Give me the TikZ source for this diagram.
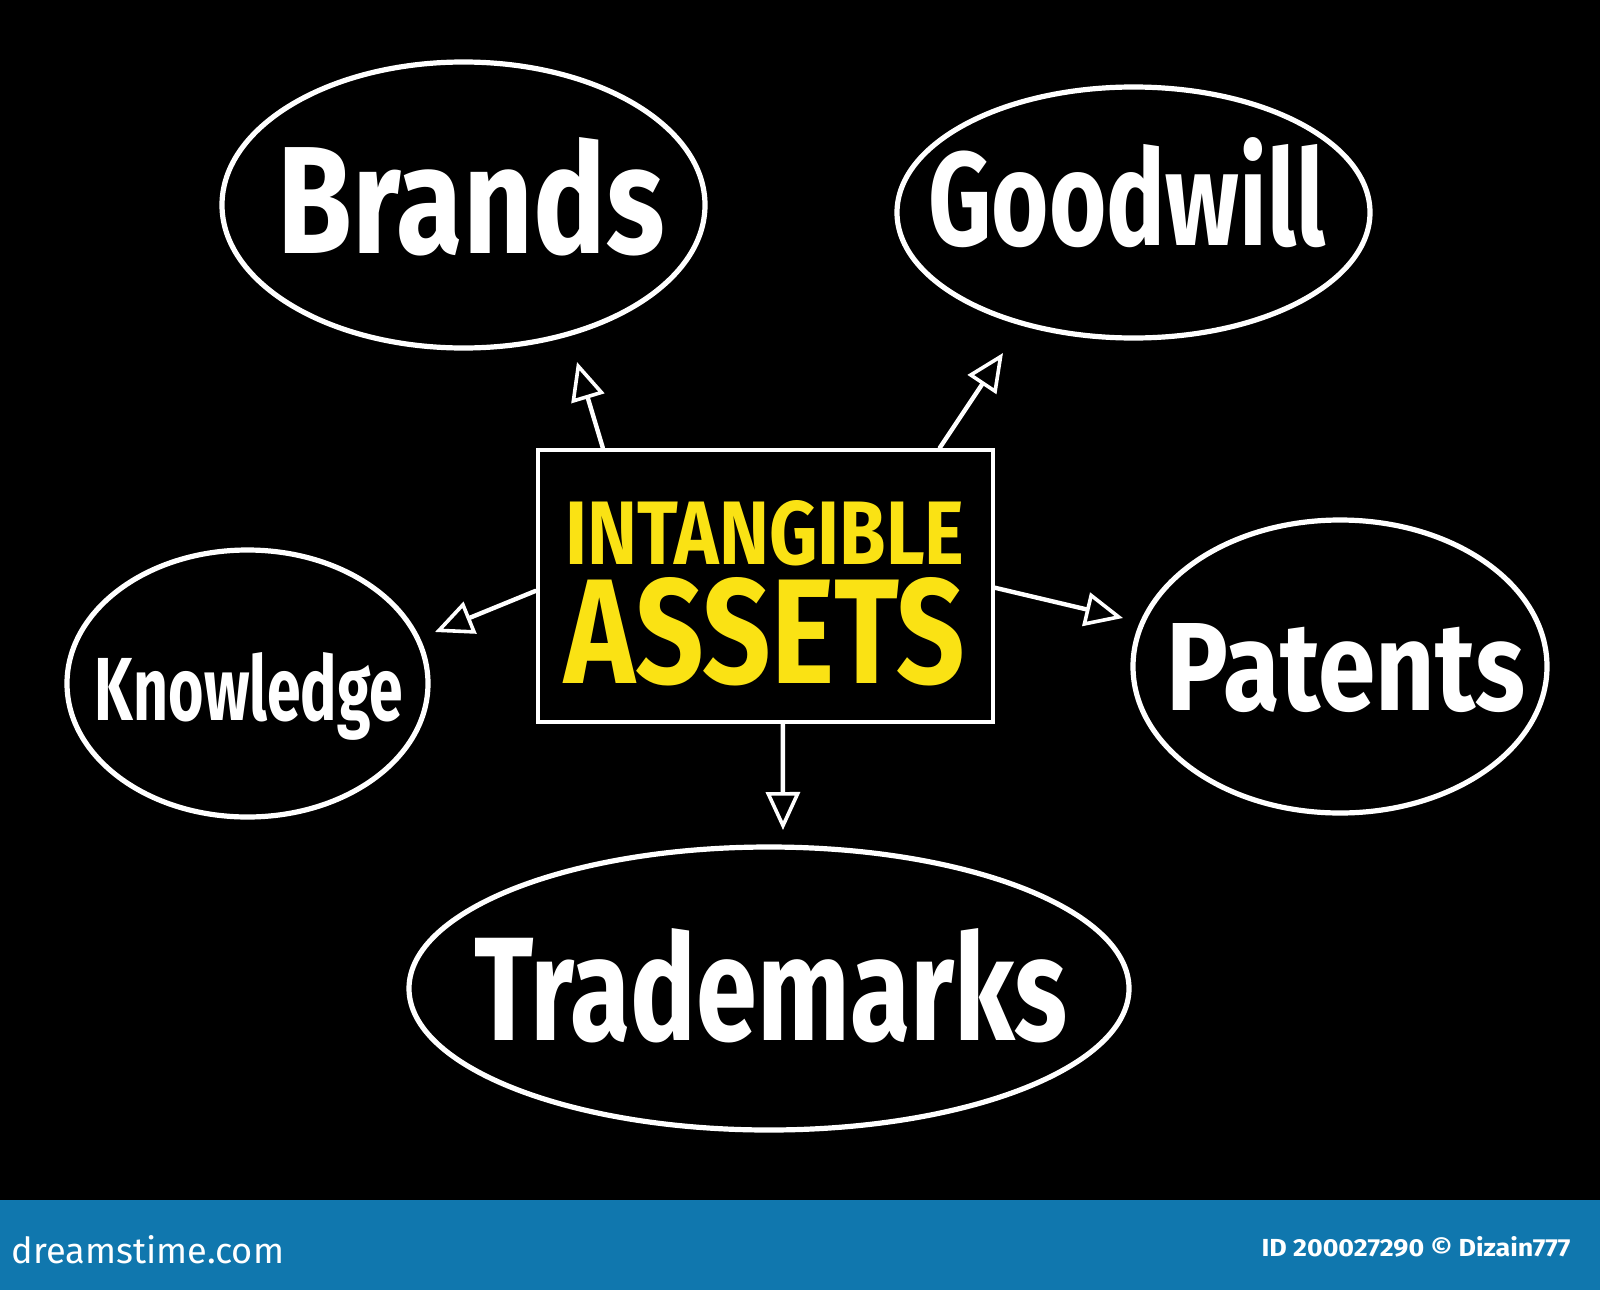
\documentclass[tikz,border=0pt]{standalone}
\usepackage{fontspec}
\setmainfont{Fira Sans}
\usepackage{graphicx}
\usetikzlibrary{shapes.geometric, arrows.meta, calc}

\definecolor{chalkyellow}{RGB}{250,226,20}
\definecolor{stockblue}{RGB}{16,119,174}
\newlength\px
\setlength\px{0.5pt}
\newcommand{\fitword}[3]{\resizebox{#1\px}{#2\px}{\bfseries #3}}
\newcommand{\fitthin}[3]{\resizebox{#1\px}{#2\px}{#3}}

\begin{document}
\begin{tikzpicture}[x=0.5pt, y=-0.5pt,
    bubble/.style={draw=white, line width=2.6pt, ellipse, inner sep=0pt},
    word/.style={white, anchor=base, inner sep=0pt},
    flow/.style={draw=white, line width=2.2pt, line cap=round,
        -{Triangle[open, length=19pt, width=17pt, line width=1.8pt]}}]

    % background and bottom strip
    \fill[black] (0,0) rectangle (1600,1290);
    \useasboundingbox (0,0) rectangle (1600,1290);
    \fill[stockblue] (0,1200) rectangle (1600,1290);

    % the five bubbles
    \node[bubble, minimum width=241.5pt, minimum height=143pt] (brands) at (463.5,205) {};
    \node[bubble, minimum width=236.5pt, minimum height=125.5pt] (goodwill) at (1133.5,212.5) {};
    \node[bubble, minimum width=180.5pt, minimum height=133.5pt] (knowledge) at (247.5,683.5) {};
    \node[bubble, minimum width=207pt, minimum height=146.5pt] (patents) at (1340,666.5) {};
    \node[bubble, minimum width=360pt, minimum height=141.5pt] (trademarks) at (769,988.5) {};

    \node[word] (brandsword) at (471,253) {\fitword{387}{116}{Brands}};
    \node[word] (goodwillword) at (1127,245) {\fitword{397}{108}{Goodwill}};
    \node[word] (knowledgeword) at (249,720) {\fitword{308}{68}{Knowledge}};
    \node[word] (patentsword) at (1346,710) {\fitword{358}{87}{Patents}};
    \node[word] (trademarksword) at (771,1040) {\fitword{593}{112}{Trademarks}};

    % centre box
    \node[draw=white, line width=2.2pt, minimum width=227.5pt, minimum height=136pt, inner sep=0pt] (core) at (765.5,586) {};
    \node[chalkyellow, anchor=north, inner sep=0pt, align=center] (coreword) at (765,500)
        {\fitword{399}{64}{INTANGIBLE}\\[5pt]\fitword{401}{106}{ASSETS}};

    % arrow tips
    \coordinate (tipbrands) at (577,362);
    \coordinate (tipgoodwill) at (1003,353);
    \coordinate (tipknowledge) at (435,632);
    \coordinate (tippatents) at (1123,618);
    \coordinate (tiptrademarks) at (783,830);

    \draw[flow] ($(core.north west)+(67,0)$) -- (tipbrands);
    \draw[flow] ($(core.north west)+(404,0)$) -- (tipgoodwill);
    \draw[flow] ($(core.north west)+(0,143)$) -- (tipknowledge);
    \draw[flow] ($(core.north east)+(0,140)$) -- (tippatents);
    \draw[flow] ($(core.south west)+(247,0)$) -- (tiptrademarks);

    % strip texts
    \node[word] (sitename) at (148,1263) {\fitthin{272}{28}{dreamstime.com}};
    \node[word] (imageid) at (1416,1256) {\fitword{309}{20}{ID 200027290 © Dizain777}};

\end{tikzpicture}
\end{document}
